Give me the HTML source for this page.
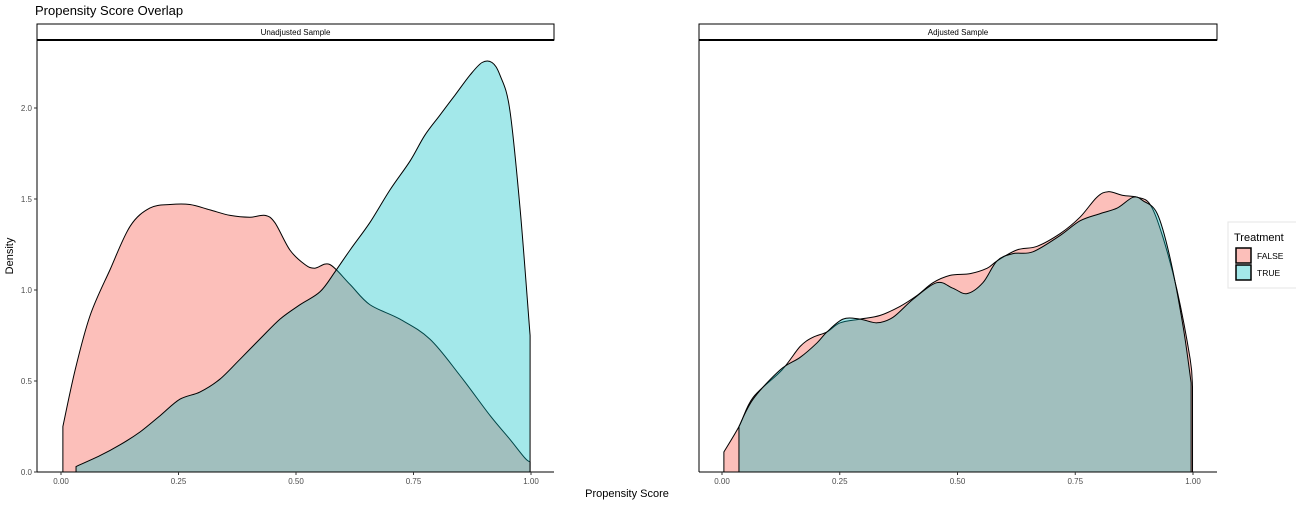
<!DOCTYPE html>
<html><head><meta charset="utf-8"><style>
body{margin:0;background:#fff;font-family:"Liberation Sans",sans-serif;}
svg text{font-family:"Liberation Sans",sans-serif;}
</style></head><body>
<svg id="chart" width="1296" height="504" xmlns="http://www.w3.org/2000/svg">
<text x="35" y="15" font-size="13" fill="#000">Propensity Score Overlap</text>
<text x="627" y="497" font-size="11" text-anchor="middle">Propensity Score</text>
<text transform="translate(13,256) rotate(-90)" font-size="11" text-anchor="middle">Density</text>
<g id="panels"></g>
<g>
<rect x="1228" y="222" width="70" height="66" fill="#fff" stroke="#e5e5e5"/>
<text x="1234" y="241" font-size="11">Treatment</text>
<rect x="1236" y="248" width="15" height="15" fill="#f8766d" fill-opacity="0.47" stroke="#000" stroke-width="1.5"/>
<text x="1257" y="259" font-size="8.5">FALSE</text>
<rect x="1236" y="265" width="15" height="15" fill="#00bfc4" fill-opacity="0.36" stroke="#000" stroke-width="1.5"/>
<text x="1257" y="276" font-size="8.5">TRUE</text>
</g>
</svg>
<script>
const panelTitles=["Unadjusted Sample","Adjusted Sample"];
const xTicks=[0,0.25,0.5,0.75,1];
const xTickLabels=["0.00","0.25","0.50","0.75","1.00"];
const yTicks=[0,0.5,1,1.5,2];
const yTickLabels=["0.0","0.5","1.0","1.5","2.0"];
const unadjFalseX=[0.004,0.03,0.062,0.104,0.147,0.189,0.232,0.274,0.317,0.36,0.402,0.434,0.455,0.487,0.519,0.54,0.572,0.615,0.657,0.721,0.785,0.849,0.913,0.955,0.987,0.998];
const unadjFalseY=[0.25,0.56,0.86,1.11,1.35,1.45,1.47,1.47,1.44,1.41,1.40,1.41,1.37,1.22,1.14,1.12,1.14,1.03,0.92,0.84,0.73,0.53,0.31,0.18,0.077,0.055];
const unadjTrueX=[0.032,0.083,0.126,0.168,0.211,0.253,0.296,0.338,0.381,0.423,0.466,0.509,0.551,0.583,0.615,0.657,0.70,0.743,0.774,0.806,0.838,0.87,0.896,0.917,0.934,0.955,0.977,0.998];
const unadjTrueY=[0.03,0.09,0.15,0.22,0.31,0.40,0.44,0.51,0.62,0.73,0.84,0.92,0.99,1.1,1.22,1.37,1.55,1.71,1.85,1.96,2.07,2.18,2.25,2.25,2.18,1.99,1.44,0.75];
const adjFalseX=[0.004,0.036,0.066,0.127,0.166,0.193,0.223,0.251,0.293,0.335,0.378,0.414,0.448,0.484,0.527,0.563,0.584,0.626,0.669,0.718,0.76,0.796,0.82,0.851,0.881,0.909,0.936,0.966,0.994,0.999];
const adjFalseY=[0.11,0.25,0.41,0.56,0.69,0.74,0.77,0.82,0.84,0.86,0.91,0.97,1.04,1.08,1.09,1.12,1.16,1.22,1.24,1.31,1.40,1.51,1.54,1.52,1.51,1.47,1.29,1.0,0.62,0.47];
const adjTrueX=[0.036,0.066,0.123,0.166,0.202,0.223,0.257,0.293,0.329,0.363,0.406,0.456,0.49,0.52,0.554,0.584,0.618,0.66,0.718,0.76,0.803,0.839,0.873,0.894,0.924,0.951,0.979,0.996];
const adjTrueY=[0.25,0.40,0.56,0.63,0.71,0.77,0.84,0.84,0.82,0.85,0.95,1.04,1.01,0.98,1.04,1.16,1.20,1.21,1.30,1.38,1.42,1.45,1.51,1.49,1.42,1.18,0.80,0.49];

const NS="http://www.w3.org/2000/svg";
const g=document.getElementById('panels');
function el(t,a,p){const e=document.createElementNS(NS,t);for(const k in a)e.setAttribute(k,a[k]);(p||g).appendChild(e);return e;}
const panels=[{left:37,right:554,x0:61,x1:531},{left:699,right:1217,x0:722,x1:1193}];
const plotTop=40,bottom=472;
function yScale(v){return bottom-v*182;}
function smooth(pts){let d="";for(let i=0;i<pts.length-1;i++){const p0=pts[Math.max(0,i-1)],p1=pts[i],p2=pts[i+1],p3=pts[Math.min(pts.length-1,i+2)];
const c1=[p1[0]+(p2[0]-p0[0])/6,p1[1]+(p2[1]-p0[1])/6],c2=[p2[0]-(p3[0]-p1[0])/6,p2[1]-(p3[1]-p1[1])/6];
d+=` C${c1[0].toFixed(1)},${c1[1].toFixed(1)} ${c2[0].toFixed(1)},${c2[1].toFixed(1)} ${p2[0].toFixed(1)},${p2[1].toFixed(1)}`;}return d;}
const series=[[[unadjFalseX,unadjFalseY],[unadjTrueX,unadjTrueY]],[[adjFalseX,adjFalseY],[adjTrueX,adjTrueY]]];
const colors=["#f8766d","#00bfc4"];
const opac=[0.47,0.36];
panels.forEach((P,pi)=>{
  const xs=v=>P.x0+v*(P.x1-P.x0);
  const pg=el('g',{});
  
  
  const strip=el('rect',{x:P.left,y:24,width:P.right-P.left,height:16,fill:'#fff',stroke:'#000','stroke-width':1},pg);
  
  
  const st=el('text',{x:(P.left+P.right)/2,y:35,'font-size':8,'text-anchor':'middle'},pg);st.textContent=panelTitles[pi];
  
  
  el('line',{x1:P.left,x2:P.right,y1:plotTop,y2:plotTop,stroke:'#000','stroke-width':2},pg);
  series[pi].forEach((s,si)=>{
    const pts=s[0].map((x,i)=>[xs(x),yScale(s[1][i])]);
    const d=`M${pts[0][0]},${bottom} L${pts[0][0]},${pts[0][1]}`+smooth(pts)+` L${pts[pts.length-1][0]},${bottom} Z`;
    const p=el('path',{d,fill:colors[si],'fill-opacity':opac[si],stroke:'#000','stroke-width':1},pg);
    
    
  });
  el('line',{x1:P.left,x2:P.left,y1:plotTop,y2:bottom,stroke:'#000','stroke-width':1},pg);
  el('line',{x1:P.left,x2:P.right,y1:bottom,y2:bottom,stroke:'#000','stroke-width':1},pg);
  xTicks.forEach((t,i)=>{
    el('line',{x1:xs(t),x2:xs(t),y1:bottom,y2:bottom+3,stroke:'#333'},pg);
    const tx=el('text',{x:xs(t),y:484,'font-size':8,'text-anchor':'middle',fill:'#4d4d4d'},pg);tx.textContent=xTickLabels[i];
    
    
  });
  if(pi==0){yTicks.forEach((t,i)=>{
    el('line',{x1:P.left-3,x2:P.left,y1:yScale(t),y2:yScale(t),stroke:'#333'},pg);
    const ty=el('text',{x:P.left-5,y:yScale(t)+3,'font-size':8,'text-anchor':'end',fill:'#4d4d4d'},pg);ty.textContent=yTickLabels[i];
    
    
  });}
});
</script>
</body></html>
